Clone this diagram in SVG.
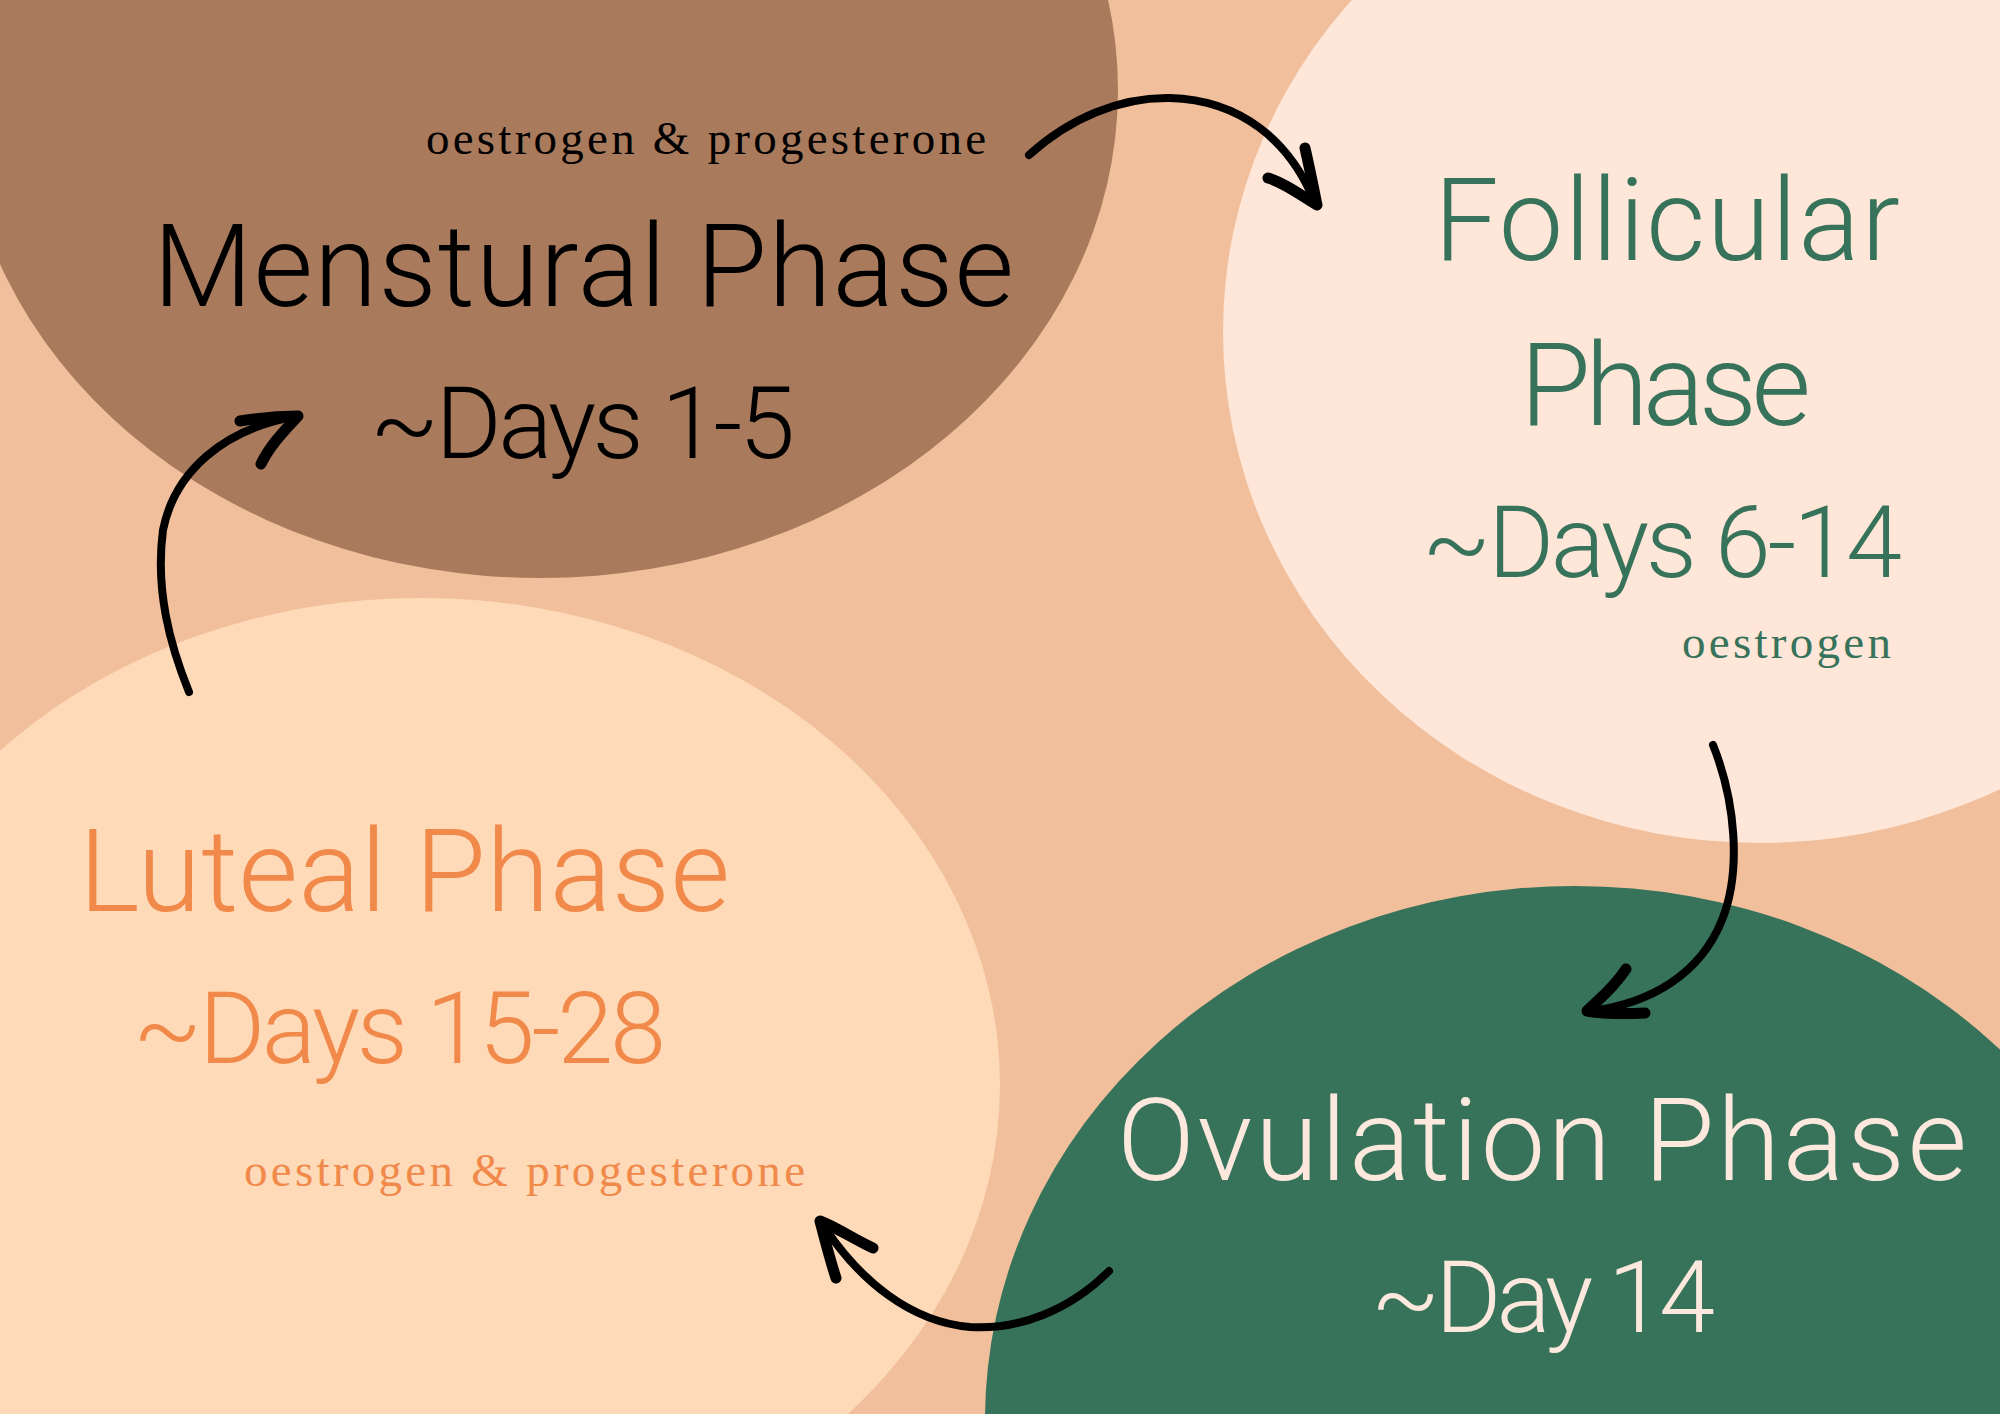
<svg xmlns="http://www.w3.org/2000/svg" width="2000" height="1414" viewBox="0 0 2000 1414">
<style>
.title{font-family:Roboto,"Liberation Sans",sans-serif;font-weight:300;font-size:115px}
.days{font-family:Roboto,"Liberation Sans",sans-serif;font-weight:300;font-size:101px}
.hormone{font-family:"Liberation Serif",serif;font-size:47px}
.conn{fill:none;stroke:#000;stroke-width:8;stroke-linecap:round;stroke-linejoin:round}
.head{fill:none;stroke:#000;stroke-width:11;stroke-linecap:round;stroke-linejoin:round}
</style>
<rect width="2000" height="1414" fill="#F1BF9B"/>
<g id="menstrual">
<ellipse cx="540" cy="90" rx="578" ry="488" fill="#A97A5B"/>
<text class="hormone" x="426" y="154" textLength="560" fill="#000">oestrogen &amp; progesterone</text>
<text class="title" x="153" y="306" textLength="861" fill="#000">Menstural Phase</text>
<text class="days" x="370" y="458" textLength="425" fill="#000">~Days 1-5</text>
</g>
<g id="follicular">
<ellipse cx="1760" cy="332" rx="537" ry="511" fill="#FEE6D8"/>
<text class="title" x="1434" y="260" textLength="466" fill="#37725A">Follicular</text>
<text class="title" x="1520" y="425" textLength="291" fill="#37725A">Phase</text>
<text class="days" x="1422" y="577" textLength="480" fill="#37725A">~Days 6-14</text>
<text class="hormone" x="1682" y="658" textLength="209" fill="#37725A">oestrogen</text>
</g>
<g id="luteal">
<ellipse cx="421" cy="1085" rx="579" ry="487" fill="#FEDAB8"/>
<text class="title" x="79" y="911" textLength="651" fill="#F0894A">Luteal Phase</text>
<text class="days" x="133" y="1063" textLength="533" fill="#F0894A">~Days 15-28</text>
<text class="hormone" x="244" y="1186" textLength="561" fill="#F0894A">oestrogen &amp; progesterone</text>
</g>
<g id="ovulation">
<ellipse cx="1575" cy="1420" rx="590" ry="534" fill="#37725A"/>
<text class="title" x="1117" y="1180" textLength="850" fill="#FCE8DC">Ovulation Phase</text>
<text class="days" x="1371" y="1332" textLength="344" fill="#FCE8DC">~Day 14</text>
</g>
<g id="connectors">
<path class="conn" d="M1029 155 C1070 118 1120 97 1170 98 C1240 100 1290 140 1315 203"/>
<path class="head" d="M1305 148 C1310 170 1314 190 1317 205 C1300 195 1285 183 1268 178"/>
<path class="conn" d="M1713 745 C1735 800 1742 870 1722 920 C1700 975 1650 1003 1592 1011"/>
<path class="head" d="M1626 969 C1612 990 1598 1000 1587 1011 C1605 1014 1625 1014 1645 1013"/>
<path class="conn" d="M1109 1271 C1070 1310 1020 1330 970 1327 C910 1322 860 1280 825 1228"/>
<path class="head" d="M873 1248 C855 1240 838 1228 820 1221 C825 1240 830 1260 836 1278"/>
<path class="conn" d="M189 692 C170 645 155 590 163 530 C175 470 225 430 292 417"/>
<path class="head" d="M261 464 C270 445 285 430 298 416 C280 416 258 418 240 421"/>
</g>
</svg>
